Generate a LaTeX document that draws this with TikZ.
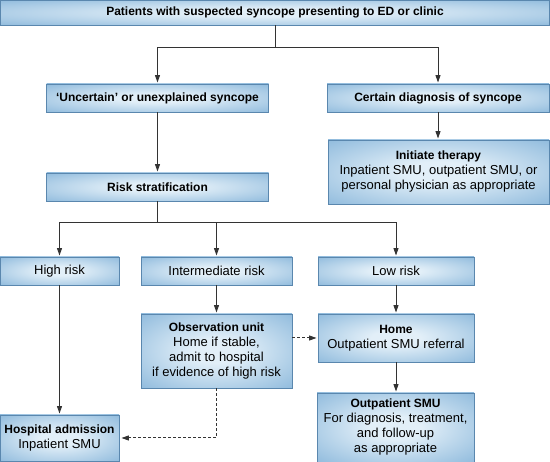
\documentclass[tikz,border=0pt]{standalone}
\usepackage{fontspec}
\setmainfont{Liberation Sans}
\usetikzlibrary{arrows.meta}
\definecolor{boxin}{HTML}{E2EFF8}
\definecolor{boxout}{HTML}{72A8D3}
\definecolor{boxline}{HTML}{5A87AE}
\definecolor{lineC}{HTML}{333333}
\pgfdeclareradialshading{boxshade}{\pgfpoint{0bp}{0bp}}{color(0bp)=(boxin); color(8bp)=(boxin); color(46bp)=(boxout); color(60bp)=(boxout)}
\newcommand{\hd}[1]{{\fontsize{12}{15}\selectfont\bfseries #1}}
\begin{document}
\begin{tikzpicture}[x=1pt,y=-1pt,
  box/.style={draw=boxline, line width=0.9pt, shading=boxshade, inner sep=0pt, align=center,
    font=\fontsize{13}{15}\selectfont, text=black},
  conn/.style={draw=lineC, line width=1pt},
  arr/.style={conn, -{Triangle[length=7.5pt,width=5pt]}, shorten >=1pt},
  darr/.style={arr, dashed, dash pattern=on 3pt off 2pt}]
\useasboundingbox (0,0) rectangle (550,462);

\node[box, minimum width=549pt, minimum height=25pt] (top) at (275,12.5) {\hd{Patients with suspected syncope presenting to ED or clinic}};
\node[box, minimum width=222pt, minimum height=28pt] (unc) at (157.5,98) {\hd{‘Uncertain’ or unexplained syncope}};
\node[box, minimum width=222pt, minimum height=28pt] (cert) at (438,98) {\hd{Certain diagnosis of syncope}};
\node[box, minimum width=222pt, minimum height=28pt] (risk) at (157.5,187) {\hd{Risk stratification}};
\node[box, minimum width=221pt, minimum height=64pt] (init) at (438.5,172) {\hd{Initiate therapy}\\Inpatient SMU, outpatient SMU, or\\personal physician as appropriate};
\node[box, minimum width=119pt, minimum height=28pt] (high) at (59.5,271) {High risk};
\node[box, minimum width=151pt, minimum height=28pt] (inter) at (216.5,271) {Intermediate risk};
\node[box, minimum width=156pt, minimum height=28pt] (low) at (396,271) {Low risk};
\node[box, minimum width=151pt, minimum height=74pt] (obs) at (216.5,351) {\hd{Observation unit}\\Home if stable,\\admit to hospital\\if evidence of high risk};
\node[box, minimum width=156pt, minimum height=48pt] (home) at (396,338) {\hd{Home}\\Outpatient SMU referral};
\node[box, minimum width=157pt, minimum height=69pt] (osmu) at (395.5,427.5) {\hd{Outpatient SMU}\\For diagnosis, treatment,\\and follow-up\\as appropriate};
\node[box, minimum width=119pt, minimum height=46pt] (hosp) at (59.5,438) {\hd{Hospital admission}\\Inpatient SMU};

\coordinate (s1) at (275,48);
\coordinate (s2) at (157.5,223);

\draw[conn] (top.south) -- (s1);
\draw[arr] (s1) -| (unc.north);
\draw[arr] (s1) -| (cert.north);
\draw[arr] (unc.south) -- (risk.north);
\draw[arr] (cert.south) -- (cert.south |- init.north);
\draw[conn] (risk.south) -- (s2);
\draw[arr] (s2) -| (high.north);
\draw[arr] (s2) -| (inter.north);
\draw[arr] (s2) -| (low.north);
\draw[arr] (high.south) -- (hosp.north);
\draw[arr] (inter.south) -- (obs.north);
\draw[arr] (low.south) -- (home.north);
\draw[arr] (home.south) -- (home.south |- osmu.north);
\draw[darr] (obs.east |- home.west) -- (home.west);
\draw[darr, shorten >=2pt] (obs.south) -- (obs.south |- hosp.east) -- (hosp.east);
\end{tikzpicture}
\end{document}
